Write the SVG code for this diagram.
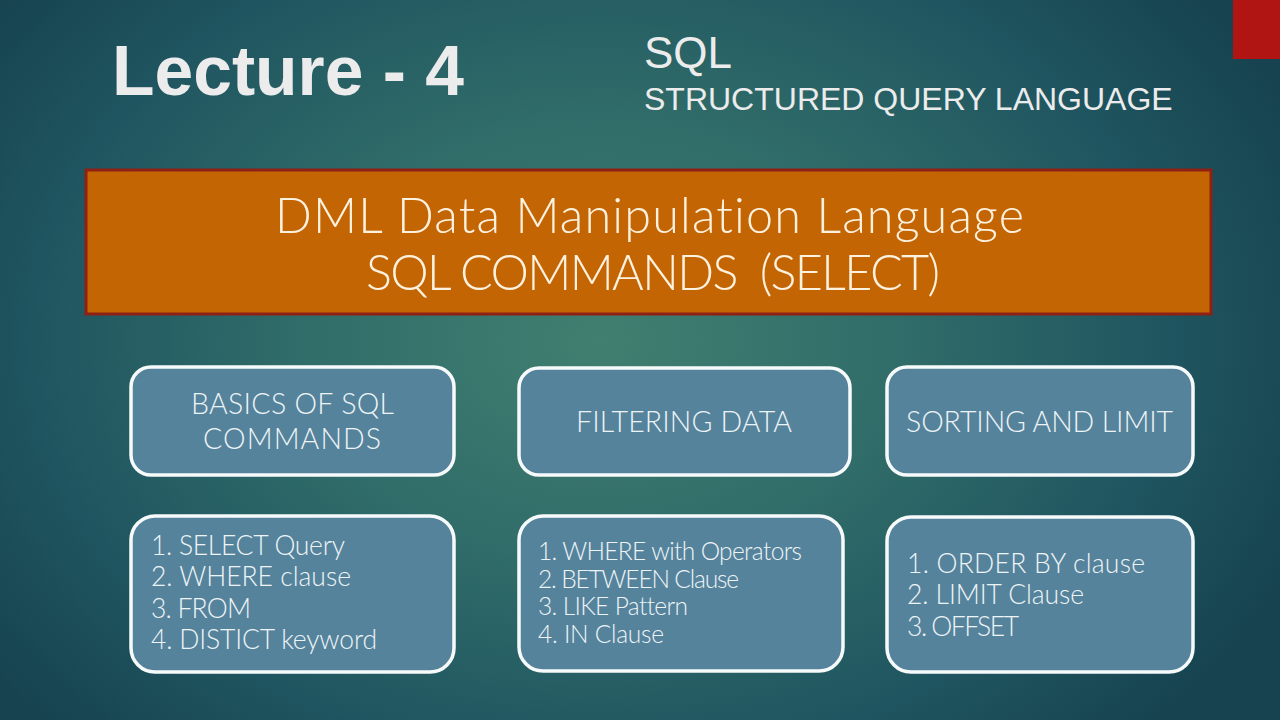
<svg xmlns="http://www.w3.org/2000/svg" width="1280" height="720" viewBox="0 0 1280 720">
<defs>
<radialGradient id="bg" gradientUnits="userSpaceOnUse" cx="0" cy="0" r="1" gradientTransform="translate(600 340) scale(760 560)">
<stop offset="0" stop-color="#417f70"/>
<stop offset="0.4" stop-color="#306c69"/>
<stop offset="0.75" stop-color="#1f5560"/>
<stop offset="1" stop-color="#16434f"/>
</radialGradient>
</defs>
<style>
.box{fill:#55839c;stroke:#f6fafa;stroke-width:3.5}
.c{font-family:"Lato","Open Sans",sans-serif;font-weight:300;fill:#eef4f6;font-variant-ligatures:none}
.b{fill:#fdf1df;font-size:48.5px}
.h{font-size:28.5px}
.l{font-size:26.5px}
.m{font-size:24.5px}
.s{font-family:"Liberation Sans",Arial,sans-serif;fill:#ececec}
</style>
<rect width="1280" height="720" fill="url(#bg)"/>
<rect id="corner" x="1233" y="0" width="47" height="59" fill="#b01513"/>
<text class="s" x="112" y="95" font-size="69.6" font-weight="700">Lecture - 4</text>
<text class="s" x="644" y="68" font-size="44">SQL</text>
<text class="s" x="644" y="110" font-size="32">STRUCTURED QUERY LANGUAGE</text>
<g id="banner">
<rect x="86" y="170" width="1125" height="144" fill="#c46503" stroke="#8e2015" stroke-width="3"/>
<text class="c b" x="275" y="233" textLength="749" lengthAdjust="spacing">DML Data Manipulation Language</text>
<text class="c b" x="366" y="290" textLength="574" lengthAdjust="spacing" xml:space="preserve">SQL COMMANDS  (SELECT)</text>
</g>
<g id="h1"><rect class="box" x="131" y="367" width="323" height="108" rx="20"/><text class="c h" x="191" y="414" textLength="203" lengthAdjust="spacing">BASICS OF SQL</text><text class="c h" x="203" y="449" textLength="178" lengthAdjust="spacing">COMMANDS</text></g>
<g id="h2"><rect class="box" x="519" y="368" width="331" height="107" rx="20"/><text class="c h" x="576" y="432" textLength="216" lengthAdjust="spacing">FILTERING DATA</text></g>
<g id="h3"><rect class="box" x="887" y="367" width="306" height="108" rx="20"/><text class="c h" x="906" y="432" textLength="267" lengthAdjust="spacing">SORTING AND LIMIT</text></g>
<g id="l1"><rect class="box" x="131" y="516" width="323" height="156" rx="24"/>
<text class="c l" x="151" y="555" textLength="194" lengthAdjust="spacing">1. SELECT Query</text><text class="c l" x="151" y="586" textLength="200" lengthAdjust="spacing">2. WHERE clause</text><text class="c l" x="151" y="618" textLength="100" lengthAdjust="spacing">3. FROM</text><text class="c l" x="151" y="649" textLength="226" lengthAdjust="spacing">4. DISTICT keyword</text></g>
<g id="l2"><rect class="box" x="519" y="516" width="324" height="155" rx="24"/>
<text class="c m" x="538" y="560" textLength="264" lengthAdjust="spacing">1. WHERE with Operators</text><text class="c m" x="538" y="588" textLength="201" lengthAdjust="spacing">2. BETWEEN Clause</text><text class="c m" x="538" y="615" textLength="150" lengthAdjust="spacing">3. LIKE Pattern</text><text class="c m" x="538" y="643" textLength="126" lengthAdjust="spacing">4. IN Clause</text></g>
<g id="l3"><rect class="box" x="887" y="517" width="306" height="155" rx="24"/>
<text class="c l" x="907" y="573" textLength="238" lengthAdjust="spacing">1. ORDER BY clause</text><text class="c l" x="907" y="604" textLength="177" lengthAdjust="spacing">2. LIMIT Clause</text><text class="c l" x="907" y="636" textLength="112" lengthAdjust="spacing">3. OFFSET</text></g>
<g id="connectors"/>
</svg>
